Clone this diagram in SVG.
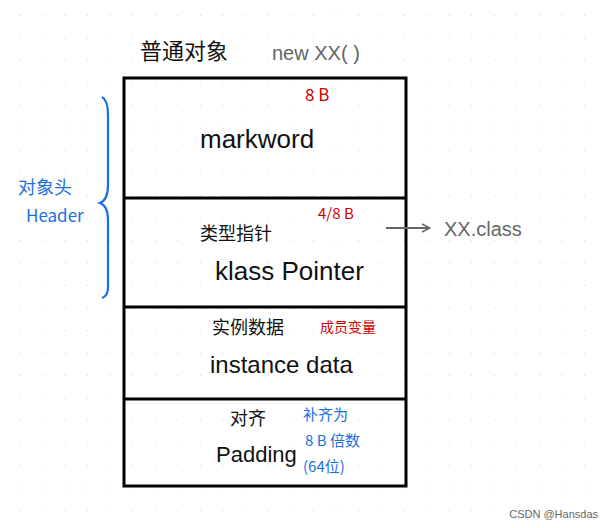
<svg xmlns="http://www.w3.org/2000/svg" width="606" height="528" viewBox="0 0 606 528">
<style>
.h{font-family:"Liberation Sans","Noto Sans CJK SC",sans-serif;fill:#111}
.c{font-family:"Noto Sans CJK SC",sans-serif;fill:#111}
.r{font-family:"Noto Sans CJK SC",sans-serif;fill:#d00000}
.b{font-family:"Noto Sans CJK SC",sans-serif;fill:#1a6fe0}
.g{font-family:"Liberation Sans",sans-serif;fill:#666}
</style>
<defs>
<pattern id="dots" x="-2.5" y="-6.5" width="22.6" height="22.5" patternUnits="userSpaceOnUse">
<circle cx="22.6" cy="22.5" r="1.1" fill="#c8c8c8"/>
</pattern>
<marker id="ah" markerWidth="10" markerHeight="10" refX="9" refY="5" orient="auto" markerUnits="userSpaceOnUse">
<path d="M1,1 L9,5 L1,9" fill="none" stroke="#666" stroke-width="1.5"/>
</marker>
</defs>
<rect width="606" height="528" fill="#fff"/>
<rect width="606" height="528" fill="url(#dots)"/>
<text class="c" x="140" y="59" font-size="22">普通对象</text>
<text class="g" x="272" y="60" font-size="20">new XX( )</text>
<g id="object" fill="none" stroke="#000" stroke-width="3">
<rect x="124" y="78" width="282" height="408"/>
<line x1="124" y1="198" x2="406" y2="198"/>
<line x1="124" y1="307" x2="406" y2="307"/>
<line x1="124" y1="399" x2="406" y2="399"/>
</g>
<g id="markword">
<text class="r" x="305" y="101" font-size="17">8 B</text>
<text class="h" x="200" y="148" font-size="26">markword</text>
</g>
<g id="klass">
<text class="c" x="200" y="240" font-size="18">类型指针</text>
<text class="r" x="318" y="219" font-size="15">4/8 B</text>
<text class="h" x="215" y="280" font-size="26">klass Pointer</text>
</g>
<g id="instance">
<text class="c" x="212" y="334" font-size="18">实例数据</text>
<text class="r" x="320" y="332" font-size="14">成员变量</text>
<text class="h" x="210" y="373" font-size="24">instance data</text>
</g>
<g id="padding">
<text class="c" x="230" y="425" font-size="18">对齐</text>
<text class="h" x="216" y="462" font-size="22">Padding</text>
<text class="b" x="303" y="420" font-size="15">补齐为</text>
<text class="b" x="305" y="446" font-size="15">8 B 倍数</text>
<text class="b" x="303" y="472" font-size="15">(64位)</text>
</g>
<g id="header">
<path d="M102,97 Q108,100 108,115 L108,185 Q108,200 100,203 Q108,206 108,220 L108,287 Q108,296 102,298" fill="none" stroke="#1a6fe0" stroke-width="2.2"/>
<text class="b" x="18" y="194" font-size="18">对象头</text>
<text class="b" x="26" y="222" font-size="17">Header</text>
</g>
<g id="connectors">
<line x1="386" y1="228" x2="430" y2="228" stroke="#666" stroke-width="1.8" marker-end="url(#ah)"/>
</g>
<text class="g" x="444" y="236" font-size="20">XX.class</text>
<text x="598" y="518" font-family="Liberation Sans,sans-serif" font-size="11" fill="#666" text-anchor="end">CSDN @Hansdas</text>
</svg>
